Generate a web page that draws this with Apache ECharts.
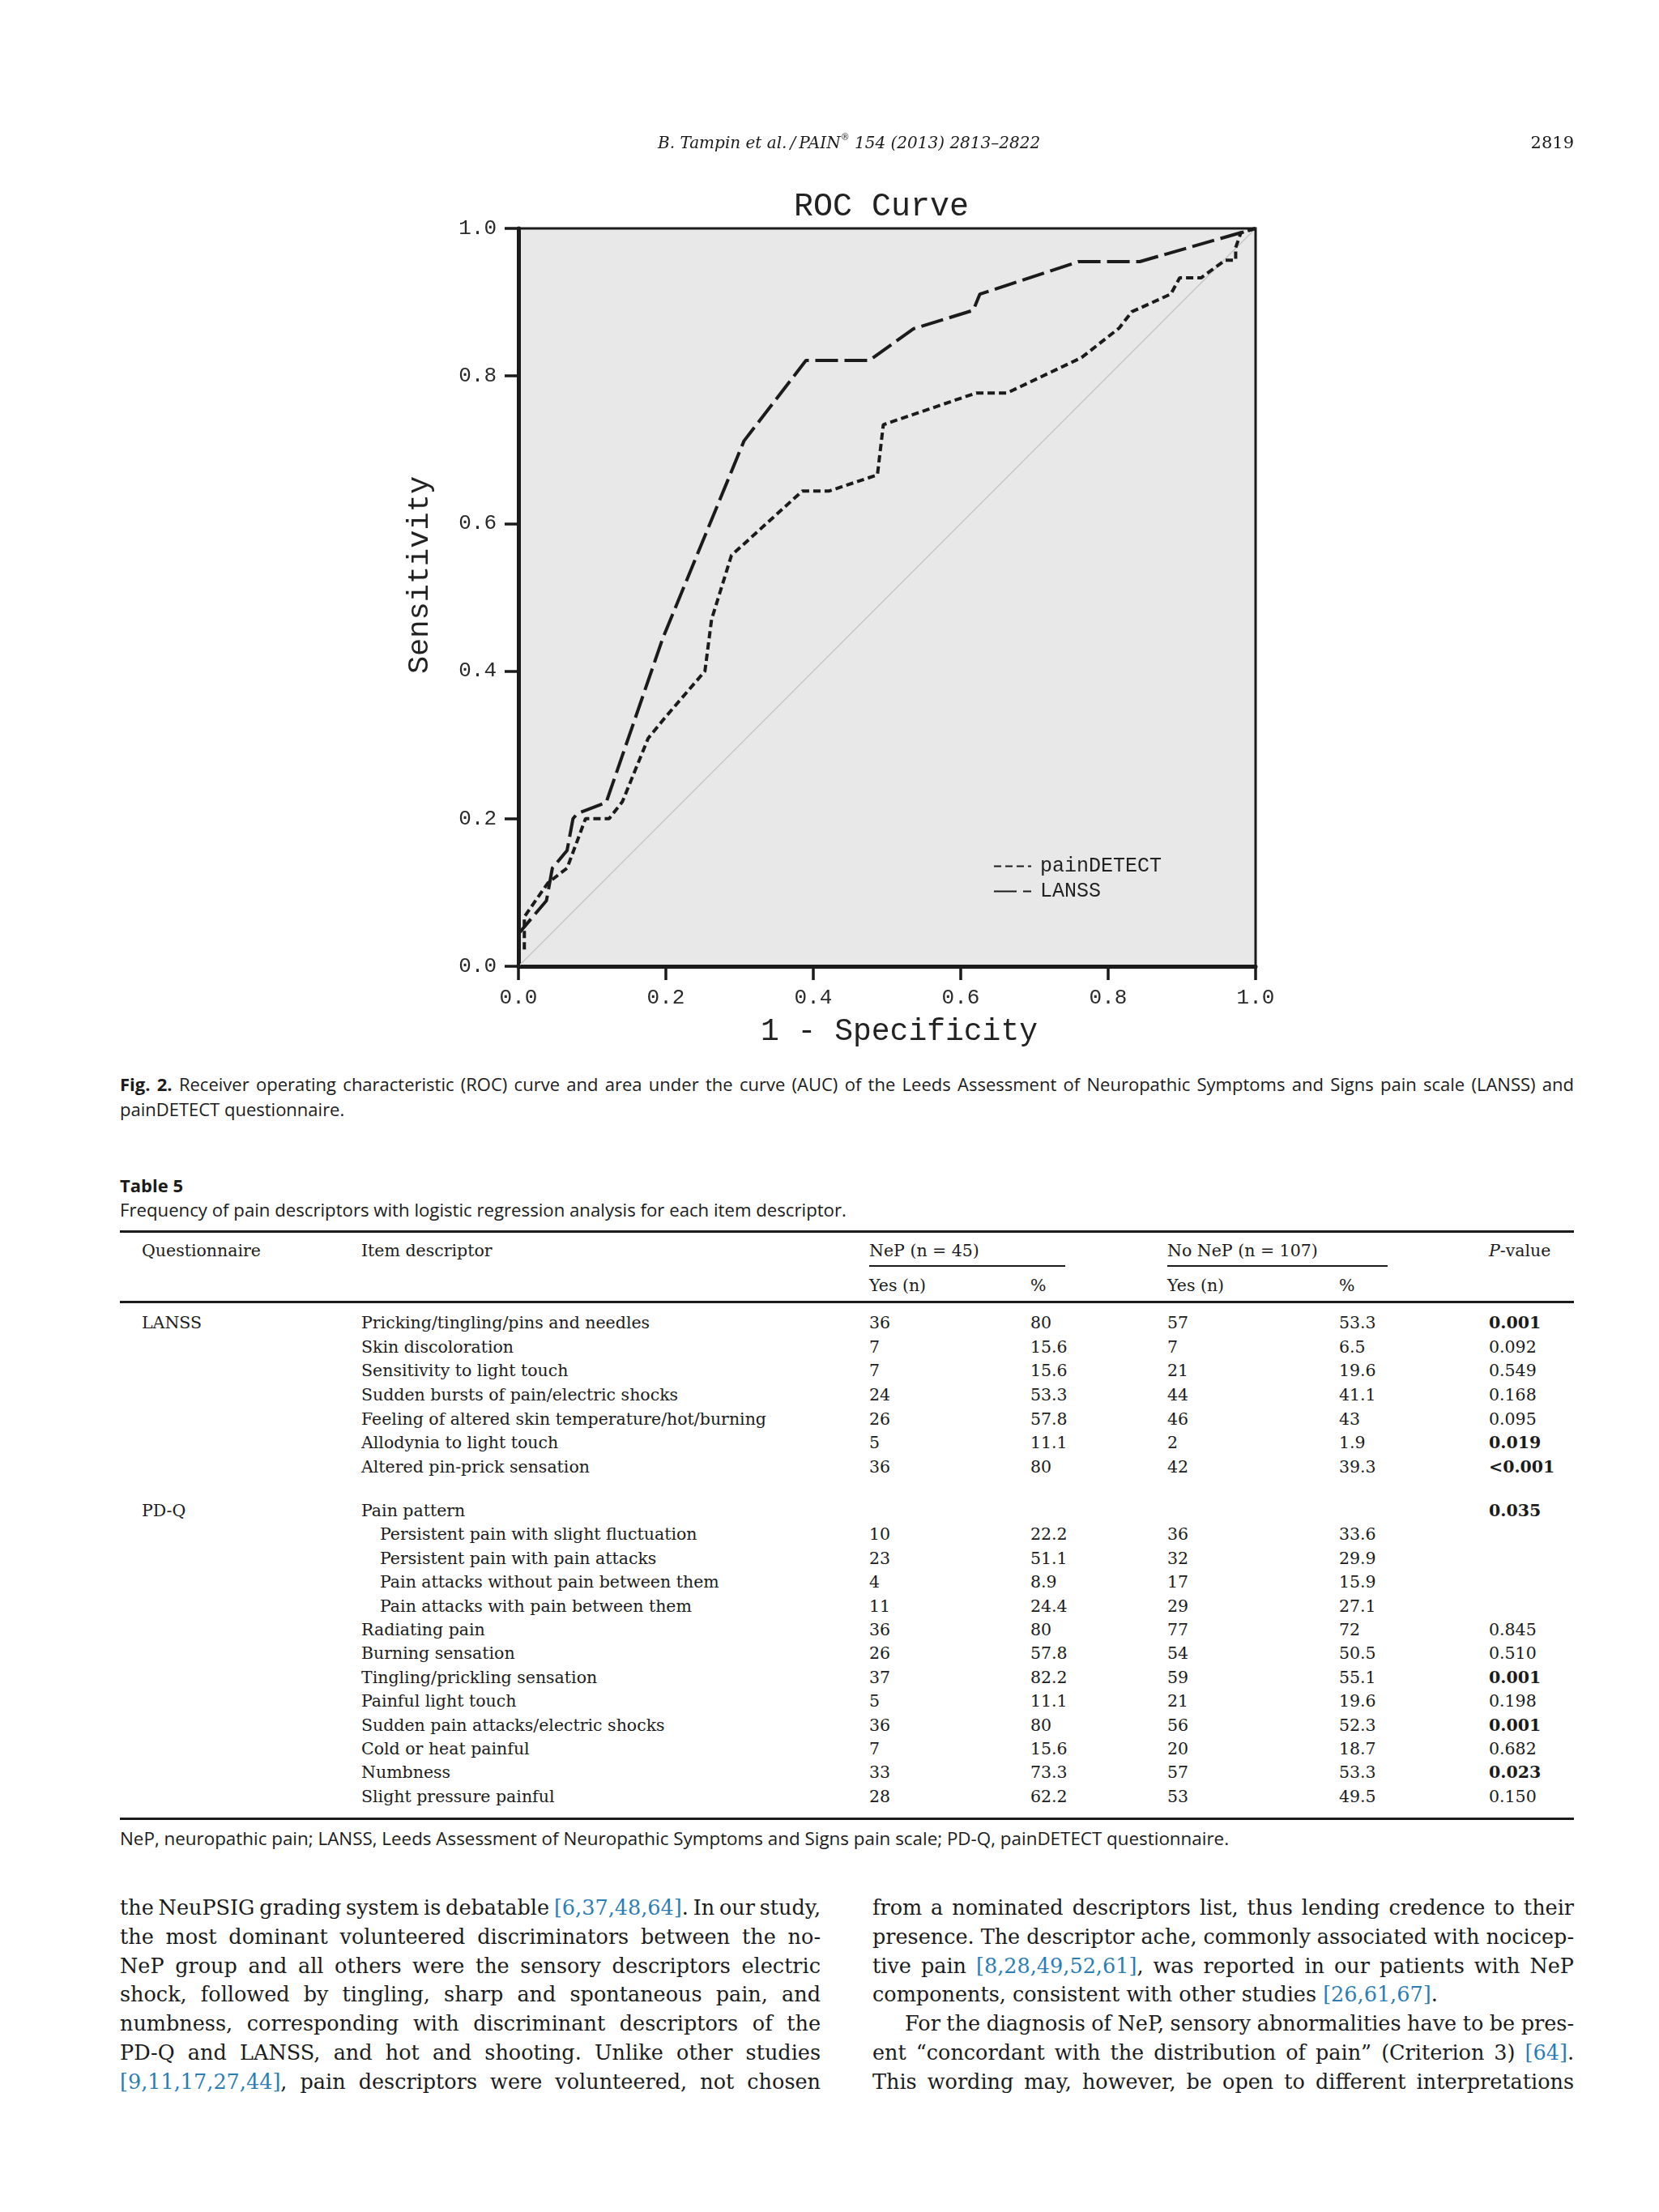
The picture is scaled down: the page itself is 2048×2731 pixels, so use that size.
<!DOCTYPE html>
<html>
<head>
<meta charset="utf-8">
<script src="https://cdn.jsdelivr.net/npm/echarts@6/dist/echarts.min.js"></script>
<style>
html,body{margin:0;padding:0;background:#ffffff;}
body{width:2048px;height:2731px;position:relative;overflow:hidden;color:#1b1b1b;}
#chart{position:absolute;left:0;top:0;width:2048px;height:1320px;}
.serif{font-family:"DejaVu Serif",serif;}
.sans{font-family:"Open Sans","Noto Sans",sans-serif;}
.ll{position:absolute;text-align:left;white-space:nowrap;}
.lnk{color:#2b7db5;}
.rule{position:absolute;background:#1b1b1b;}
</style>
</head>
<body>
<div id="chart"></div>
<div id="page"></div>
<script>
// ---------- ROC data (1 - specificity, sensitivity) ----------
const lanssFpr = [0, 0, 0.038, 0.046, 0.066, 0.074, 0.080, 0.119, 0.196, 0.306, 0.390, 0.476, 0.536, 0.617, 0.626, 0.760, 0.843, 1.0];
const lanssTpr = [0, 0.044, 0.089, 0.133, 0.157, 0.200, 0.207, 0.222, 0.445, 0.712, 0.821, 0.821, 0.864, 0.889, 0.911, 0.955, 0.955, 1.0];
const pdFpr = [0, 0, 0.008, 0.008, 0.040, 0.066, 0.091, 0.123, 0.141, 0.176, 0.198, 0.253, 0.262, 0.289, 0.385, 0.421, 0.487, 0.495, 0.621, 0.663, 0.764, 0.815, 0.832, 0.885, 0.897, 0.926, 0.959, 0.973, 0.973, 0.980, 1.0];
const pdTpr = [0, 0.022, 0.022, 0.067, 0.113, 0.133, 0.200, 0.200, 0.223, 0.309, 0.336, 0.400, 0.470, 0.557, 0.644, 0.644, 0.666, 0.734, 0.777, 0.777, 0.825, 0.865, 0.887, 0.911, 0.933, 0.933, 0.957, 0.957, 0.974, 0.994, 1.0];
const diagFpr = [0, 1];
const diagTpr = [0, 1];
const seriesNames = ['painDETECT', 'LANSS'];
const tickLabels = ['0.0', '0.2', '0.4', '0.6', '0.8', '1.0'];

// ---------- Table data ----------
const tableHeader = ['Questionnaire', 'Item descriptor', 'NeP (n\u00a0=\u00a045)', 'No NeP (n\u00a0=\u00a0107)', 'P-value'];
const tableSubHeader = ['Yes (n)', '%', 'Yes (n)', '%'];
const lanssItems = ['Pricking/tingling/pins and needles', 'Skin discoloration', 'Sensitivity to light touch', 'Sudden bursts of pain/electric shocks', 'Feeling of altered skin temperature/hot/burning', 'Allodynia to light touch', 'Altered pin-prick sensation'];
const lanssNepYes = ['36', '7', '7', '24', '26', '5', '36'];
const lanssNepPct = ['80', '15.6', '15.6', '53.3', '57.8', '11.1', '80'];
const lanssNoYes = ['57', '7', '21', '44', '46', '2', '42'];
const lanssNoPct = ['53.3', '6.5', '19.6', '41.1', '43', '1.9', '39.3'];
const lanssP = ['0.001', '0.092', '0.549', '0.168', '0.095', '0.019', '<0.001'];
const lanssPBold = [true, false, false, false, false, true, true];
const pdqItems = ['Pain pattern', 'Persistent pain with slight fluctuation', 'Persistent pain with pain attacks', 'Pain attacks without pain between them', 'Pain attacks with pain between them', 'Radiating pain', 'Burning sensation', 'Tingling/prickling sensation', 'Painful light touch', 'Sudden pain attacks/electric shocks', 'Cold or heat painful', 'Numbness', 'Slight pressure painful'];
const pdqIndent = [false, true, true, true, true, false, false, false, false, false, false, false, false];
const pdqNepYes = ['', '10', '23', '4', '11', '36', '26', '37', '5', '36', '7', '33', '28'];
const pdqNepPct = ['', '22.2', '51.1', '8.9', '24.4', '80', '57.8', '82.2', '11.1', '80', '15.6', '73.3', '62.2'];
const pdqNoYes = ['', '36', '32', '17', '29', '77', '54', '59', '21', '56', '20', '57', '53'];
const pdqNoPct = ['', '33.6', '29.9', '15.9', '27.1', '72', '50.5', '55.1', '19.6', '52.3', '18.7', '53.3', '49.5'];
const pdqP = ['0.035', '', '', '', '', '0.845', '0.510', '0.001', '0.198', '0.001', '0.682', '0.023', '0.150'];
const pdqPBold = [true, false, false, false, false, false, false, true, false, true, false, true, false];

// ---------- Body text ----------
const leftCol = [
  ['j', 'the NeuPSIG grading system is debatable <span class="lnk">[6,37,48,64]</span>. In our study,'],
  ['j', 'the most dominant volunteered discriminators between the no-'],
  ['j', 'NeP group and all others were the sensory descriptors electric'],
  ['j', 'shock, followed by tingling, sharp and spontaneous pain, and'],
  ['j', 'numbness, corresponding with discriminant descriptors of the'],
  ['j', 'PD-Q and LANSS, and hot and shooting. Unlike other studies'],
  ['j', '<span class="lnk">[9,11,17,27,44]</span>, pain descriptors were volunteered, not chosen']
];
const rightCol = [
  ['j', 'from a nominated descriptors list, thus lending credence to their'],
  ['j', 'presence. The descriptor ache, commonly associated with nocicep-'],
  ['j', 'tive pain <span class="lnk">[8,28,49,52,61]</span>, was reported in our patients with NeP'],
  ['l', 'components, consistent with other studies <span class="lnk">[26,61,67]</span>.'],
  ['i', 'For the diagnosis of NeP, sensory abnormalities have to be pres-'],
  ['j', 'ent \u201cconcordant with the distribution of pain\u201d (Criterion 3) <span class="lnk">[64]</span>.'],
  ['j', 'This wording may, however, be open to different interpretations']
];

// ---------- Page (HTML text parts) ----------
const page = document.getElementById('page');
function add(html, cls, left, cy, size, lh, extra) {
  const d = document.createElement('div');
  d.className = cls;
  d.style.left = left + 'px';
  d.style.top = (cy - lh / 2) + 'px';
  d.style.fontSize = size + 'px';
  d.style.lineHeight = lh + 'px';
  d.style.height = lh + 'px';
  if (extra) Object.assign(d.style, extra);
  d.innerHTML = html;
  page.appendChild(d);
  return d;
}
function justify(el, width) {
  const natural = el.getBoundingClientRect().width;
  const spaces = (el.textContent.match(/ /g) || []).length;
  if (spaces > 0) el.style.wordSpacing = ((width - natural) / spaces) + 'px';
}
function addJ(html, cls, left, cy, size, lh, width, extra) {
  const d = add(html, cls, left, cy, size, lh, extra);
  justify(d, width);
  return d;
}
function rule(left, top, width, h) {
  const d = document.createElement('div');
  d.className = 'rule';
  d.style.left = left + 'px'; d.style.top = top + 'px';
  d.style.width = width + 'px'; d.style.height = h + 'px';
  page.appendChild(d);
}
// running header
add('B. Tampin et al.\u2009/\u2009PAIN<sup style="font-size:11px;vertical-align:10px;line-height:0">\u00ae</sup> 154 (2013) 2813\u20132822', 'll serif', 812, 176, 20, 26, {fontStyle: 'italic'});
add('2819', 'll serif', 1880, 176, 21, 26, {width: '63px', textAlign: 'right'});

// figure caption
addJ('<b>Fig. 2.</b> Receiver operating characteristic (ROC) curve and area under the curve (AUC) of the Leeds Assessment of Neuropathic Symptoms and Signs pain scale (LANSS) and', 'll sans', 148, 1338, 22, 30, 1795);
add('painDETECT questionnaire.', 'll sans', 148, 1369, 22, 30);

// table caption
add('<b>Table 5</b>', 'll sans', 148, 1463, 22, 30);
add('Frequency of pain descriptors with logistic regression analysis for each item descriptor.', 'll sans', 148, 1494, 22.2, 30);
rule(148, 1519, 1795, 2.5);
const colX = [175, 446, 1073, 1272, 1441, 1653, 1838];
const tfs = 20.5, tlh = 28;
add(tableHeader[0], 'll serif', colX[0], 1544, tfs, tlh);
add(tableHeader[1], 'll serif', colX[1], 1544, tfs, tlh);
add(tableHeader[2], 'll serif', colX[2], 1544, tfs, tlh);
add(tableHeader[3], 'll serif', colX[4], 1544, tfs, tlh);
add('<i>P</i>-value', 'll serif', colX[6], 1544, tfs, tlh);
rule(1073, 1562, 242, 1.5);
rule(1441, 1562, 272, 1.5);
add(tableSubHeader[0], 'll serif', colX[2], 1587, tfs, tlh);
add(tableSubHeader[1], 'll serif', colX[3], 1587, tfs, tlh);
add(tableSubHeader[2], 'll serif', colX[4], 1587, tfs, tlh);
add(tableSubHeader[3], 'll serif', colX[5], 1587, tfs, tlh);
rule(148, 1606, 1795, 2.5);
function row(cy, q, item, indent, a, b, c, d, p, bold) {
  if (q) add(q, 'll serif', colX[0], cy, tfs, tlh);
  add(item, 'll serif', colX[1] + (indent ? 23 : 0), cy, tfs, tlh);
  if (a) add(a, 'll serif', colX[2], cy, tfs, tlh);
  if (b) add(b, 'll serif', colX[3], cy, tfs, tlh);
  if (c) add(c, 'll serif', colX[4], cy, tfs, tlh);
  if (d) add(d, 'll serif', colX[5], cy, tfs, tlh);
  if (p) add(p.replace('<', '&lt;'), 'll serif', colX[6], cy, tfs, tlh, bold ? {fontWeight: 'bold'} : null);
}
lanssItems.forEach((it, i) => {
  row(1633 + i * 29.65, i === 0 ? 'LANSS' : '', it, false, lanssNepYes[i], lanssNepPct[i], lanssNoYes[i], lanssNoPct[i], lanssP[i], lanssPBold[i]);
});
pdqItems.forEach((it, i) => {
  row(1865 + i * 29.4, i === 0 ? 'PD-Q' : '', it, pdqIndent[i], pdqNepYes[i], pdqNepPct[i], pdqNoYes[i], pdqNoPct[i], pdqP[i], pdqPBold[i]);
});
rule(148, 2244, 1795, 2.5);
add('NeP, neuropathic pain; LANSS, Leeds Assessment of Neuropathic Symptoms and Signs pain scale; PD-Q, painDETECT questionnaire.', 'll sans', 148, 2270, 22.4, 30);

// body text columns
function column(lines, left, width) {
  lines.forEach((ln, i) => {
    const cy = 2355 + i * 35.8;
    if (ln[0] === 'j') addJ(ln[1], 'll serif', left, cy, 25.5, 36, width);
    else if (ln[0] === 'i') addJ(ln[1], 'll serif', left + 40, cy, 25.5, 36, width - 40);
    else add(ln[1], 'll serif', left, cy, 25.5, 36);
  });
}
column(leftCol, 148, 865);
column(rightCol, 1077, 866);

// ---------- Chart ----------
const toPts = (xs, ys) => xs.map((x, i) => [x, ys[i]]);
const ink = '#1b1b1b';
const mono = '"Liberation Mono", "DejaVu Sans Mono", monospace';
const chart = echarts.init(document.getElementById('chart'), null, {renderer: 'canvas'});
const axisCommon = {
  type: 'value', min: 0, max: 1, interval: 0.2,
  axisLine: {show: true, onZero: false, lineStyle: {color: ink, width: 5}},
  axisTick: {show: true, inside: false, length: 17, lineStyle: {color: ink, width: 3.5}},
  splitLine: {show: false},
  axisLabel: {fontFamily: mono, fontSize: 26, color: '#2a2a2a', formatter: (v) => tickLabels[Math.round(v / 0.2)]}
};
chart.setOption({
  animation: false,
  backgroundColor: 'transparent',
  grid: {left: 640, top: 282, width: 910, height: 911, show: true, backgroundColor: '#e8e8e8', borderColor: ink, borderWidth: 3},
  xAxis: Object.assign({}, axisCommon, {axisLabel: Object.assign({}, axisCommon.axisLabel, {margin: 26})}),
  yAxis: Object.assign({}, axisCommon, {axisLabel: Object.assign({}, axisCommon.axisLabel, {margin: 27})}),
  legend: {
    orient: 'vertical', left: 1221, top: 1052,
    itemWidth: 46, itemHeight: 14, itemGap: 6,
    data: seriesNames,
    itemStyle: {opacity: 0, color: 'rgba(0,0,0,0)', borderWidth: 0},
    textStyle: {fontFamily: mono, fontSize: 25, color: '#222', lineHeight: 25, padding: [0, 0, 0, 6]},
    selectedMode: false
  },
  graphic: [
    {type: 'text', x: 1088, y: 255, style: {text: 'ROC Curve', font: '40px "Liberation Mono"', fill: '#222', align: 'center', verticalAlign: 'middle'}},
    {type: 'text', x: 518, y: 710, rotation: Math.PI / 2, style: {text: 'Sensitivity', font: '37px "Liberation Mono"', fill: '#222', align: 'center', verticalAlign: 'middle'}},
    {type: 'text', x: 1110, y: 1274, style: {text: '1 - Specificity', font: '38px "Liberation Mono"', fill: '#222', align: 'center', verticalAlign: 'middle'}}
  ],
  series: [
    {name: 'Reference', type: 'line', data: toPts(diagFpr, diagTpr), symbol: 'none', silent: true, z: 1,
     lineStyle: {color: '#c6c6c6', width: 1.5}},
    {name: seriesNames[0], type: 'line', data: toPts(pdFpr, pdTpr), symbol: 'none', showSymbol: false, z: 3,
     itemStyle: {color: ink}, lineStyle: {color: ink, width: 4, type: [9, 5]}},
    {name: seriesNames[1], type: 'line', data: toPts(lanssFpr, lanssTpr), symbol: 'none', showSymbol: false, z: 3,
     itemStyle: {color: ink}, lineStyle: {color: ink, width: 4, type: [28, 8]}}
  ]
});
</script>
</body>
</html>
